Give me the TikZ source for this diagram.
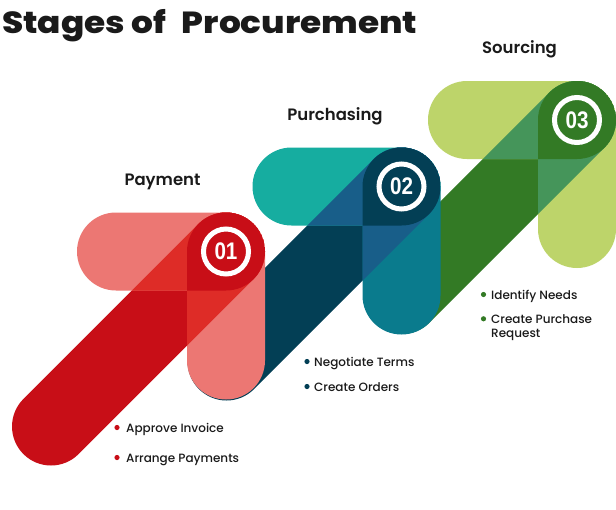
\documentclass[tikz,border=0pt]{standalone}
\usepackage{fontspec}
\setmainfont{Poppins}
\IfFontExistsTF{Poppins ExtraBold}{\newfontfamily\titlefont{Poppins ExtraBold}\def\titlescale{1.125}}{\newfontfamily\titlefont{Poppins}[UprightFont=* Bold]\def\titlescale{1.24}}
\IfFontExistsTF{Poppins SemiBold}{\newfontfamily\headfont{Poppins SemiBold}}{\newfontfamily\headfont{Poppins}[UprightFont=* Bold]}
\IfFontExistsTF{Poppins Medium}{\newfontfamily\itemfont{Poppins Medium}}{\newfontfamily\itemfont{Poppins}}
\newfontfamily\numfont{Liberation Sans}
\definecolor{redD}{HTML}{C80E17}
\definecolor{redL}{HTML}{EC7773}
\definecolor{redM}{HTML}{DE2C27}
\definecolor{navD}{HTML}{033F55}
\definecolor{turL}{HTML}{16ADA0}
\definecolor{tealL}{HTML}{0A7B8D}
\definecolor{bluM}{HTML}{185E89}
\definecolor{grnD}{HTML}{337A25}
\definecolor{grnL}{HTML}{BDD46A}
\definecolor{grnM}{HTML}{45955A}
\definecolor{ink}{HTML}{1A1A1A}
\newcommand\stagedraw[8]{%
  \fill[rc,fill=#3,Dp={#1}{#2}];
  \fill[rc,fill=#4,Hp={#1}{#2}];
  \fill[rc,fill=#5,Vp={#1}{#2}];
  \begin{scope}
    \clip[rc,Dp={#1}{#2}];
    \fill[rc,fill=#6,Hp={#1}{#2}];
    \fill[rc,fill=#6,Vp={#1}{#2}];
  \end{scope}
  \begin{scope}
    \clip[rc,Hp={#1}{#2}];
    \fill[rc,fill=#3,Vp={#1}{#2}];
  \end{scope}
  \draw[ring] (#1,#2) circle[radius=22.5pt];
  \node[numtext] (num#8) at (#1,#2) {#7};
}
\begin{document}
\begin{tikzpicture}[x=1pt,y=-1pt,
  Hp/.style 2 args={insert path={({#1-149},{#2-39}) rectangle ({#1+39},{#2+39})}},
  Vp/.style 2 args={insert path={({#1-39},{#2-39}) rectangle ({#1+39},{#2+148})}},
  Dp/.style 2 args={insert path={({#1-115.077},{#2+59.923}) -- ({#1-230.154},{#2+175}) -- ({#1-175},{#2+230.154}) -- ({#1+55.154},{#2}) -- ({#1},{#2-55.154}) -- cycle}},
  rc/.style={rounded corners=39pt},
  ring/.style={white,line width=5pt},
  numtext/.style={text=white,inner sep=0pt,font=\numfont\bfseries\fontsize{24}{24}\selectfont,xscale=0.86},
  head/.style={anchor=base,text=ink,inner sep=0pt,font=\headfont\fontsize{16.5}{16.5}\selectfont},
  item/.style={anchor=base west,text=ink,inner sep=0pt,font=\itemfont\fontsize{12}{12}\selectfont},
]
\useasboundingbox (0,0) rectangle (616,509);
\fill[white] (0,0) rectangle (616,509);

\stagedraw{577}{120}{grnD}{grnL}{grnL}{grnM}{03}{3}
\stagedraw{401.5}{186.5}{navD}{turL}{tealL}{bluM}{02}{2}
\stagedraw{226}{251.5}{redD}{redL}{redL}{redM}{01}{1}

\node[anchor=base west,text=ink,inner sep=0pt,xscale=\titlescale,font=\titlefont\fontsize{30.5}{30.5}\selectfont] (title) at (2,33) {Stages of\hspace{0.45em}Procurement};

\node[head] (h1) at (162.5,185) {Payment};
\node[head] (h2) at (335,120) {Purchasing};
\node[head] (h3) at (519.5,53) {Sourcing};

\fill[redD] (117,427.5) circle[radius=2.6pt];
\node[item] (a1) at (126,432) {Approve Invoice};
\fill[redD] (117,457.5) circle[radius=2.6pt];
\node[item] (a2) at (126,462) {Arrange Payments};

\fill[navD] (307,361.5) circle[radius=2.6pt];
\node[item] (b1) at (314,366) {Negotiate Terms};
\fill[navD] (307,386.5) circle[radius=2.6pt];
\node[item] (b2) at (314,391) {Create Orders};

\fill[grnD] (483.5,294.5) circle[radius=2.6pt];
\node[item] (c1) at (491,299) {Identify Needs};
\fill[grnD] (483.5,318.8) circle[radius=2.6pt];
\node[item] (c2) at (491,323.3) {Create Purchase};
\node[item] (c3) at (491,337) {Request};
\end{tikzpicture}
\end{document}
